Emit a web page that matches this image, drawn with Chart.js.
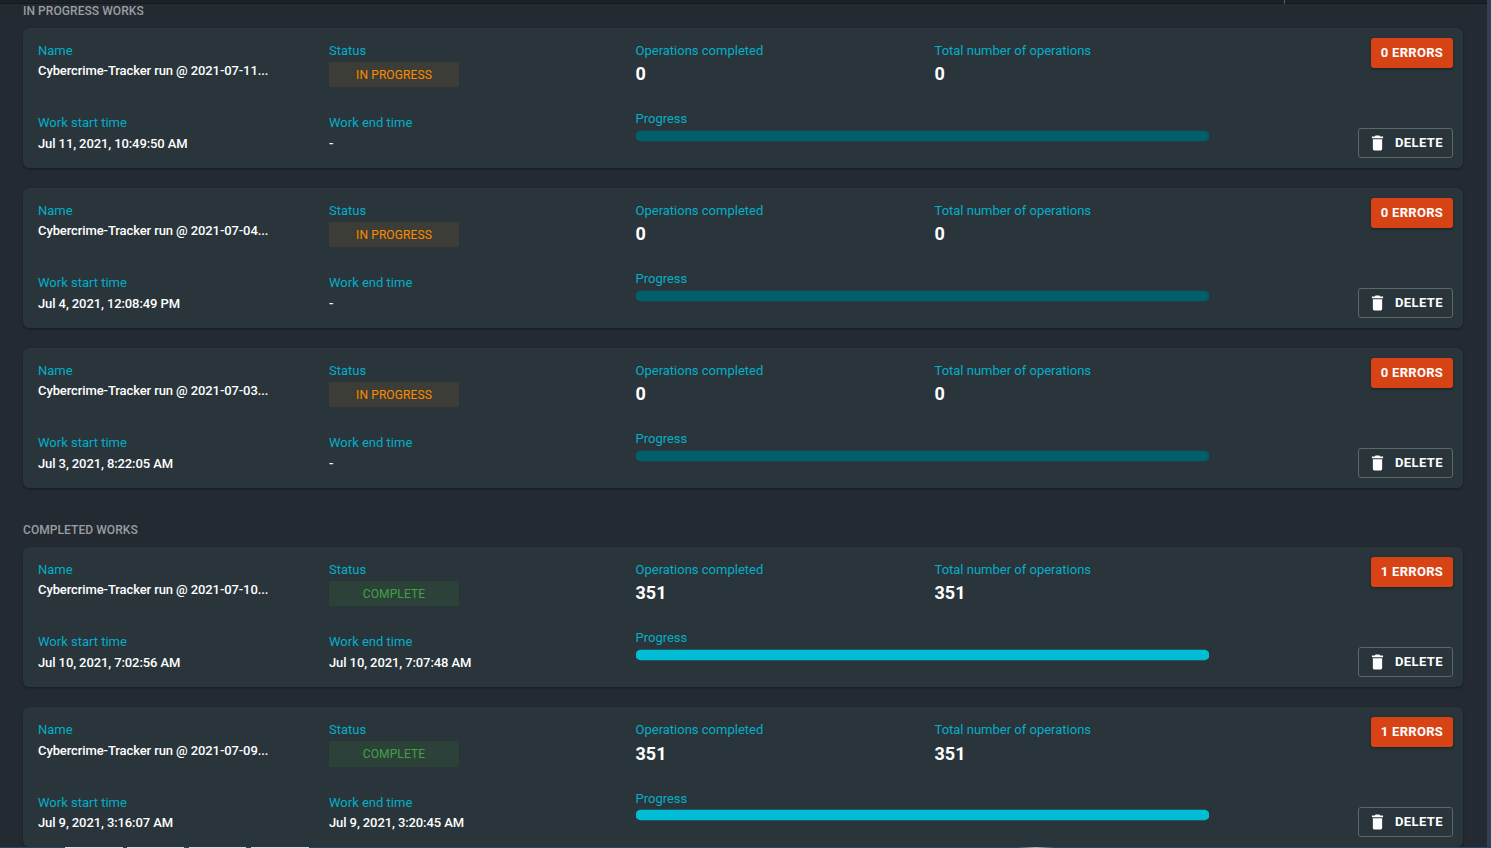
<!DOCTYPE html>
<html>
<head>
<meta charset="utf-8">
<title>Works</title>
<script src="https://cdn.jsdelivr.net/npm/chart.js@4"></script>
<style>
html, body { margin: 0; padding: 0; }
body { width: 1491px; height: 848px; overflow: hidden; background: #232a31; font-family: Roboto, sans-serif; position: relative; }
#topbar { position: absolute; left: 0; top: 0; width: 1491px; height: 3px; background: #1b2127; border-bottom: 1px solid #151a1f; }
#topbar i { position: absolute; left: 1284px; top: 0; width: 1px; height: 4px; background: #555c62; }
#scroll { position: absolute; left: 1487px; top: 0; width: 4px; height: 848px; background: #2d4552; }
#bottom { position: absolute; left: 0; top: 847px; width: 1491px; height: 1px; background: #1f4a66; z-index: 2; }
#bottom i { position: absolute; top: 0; height: 1px; background: #d8dde0; }
#bottom i.glow { background: linear-gradient(90deg, #1f4a66, #aab4ba, #1f4a66); }
.section { position: absolute; left: 23px; font-size: 12px; font-weight: 500; color: #9a9ea1; line-height: 14px; letter-spacing: .07px; }
.card { position: absolute; left: 23px; width: 1440px; height: 140px; background: #29353b; border-radius: 6px; box-shadow: 0 1px 3px rgba(0,0,0,.35); }
.card div { position: absolute; white-space: nowrap; }
.lbl { font-size: 13px; color: #04aec8; line-height: 16px; }
.val { font-size: 13px; font-weight: 500; color: #fff; line-height: 16px; letter-spacing: -.1px; }
.num { font-size: 18px; font-weight: 700; color: #fff; line-height: 22px; }
.pill { width: 130px; height: 25px; line-height: 27px; text-align: center; font-size: 12px; letter-spacing: .1px; }
.err { left: 1348px; top: 10px; width: 82px; height: 30px; line-height: 30px; text-align: center; border-radius: 3px; background: #d84315; color: #fff; font-size: 13px; font-weight: 700; letter-spacing: .3px; box-shadow: 0 1px 3px rgba(0,0,0,.4); }
.del { left: 1335px; top: 100px; width: 93px; height: 28px; border: 1px solid #5c666b; border-radius: 3px; color: #fff; font-size: 13px; font-weight: 700; letter-spacing: .4px; }
.del span { position: absolute; left: 36px; top: 0; line-height: 28px; }
.del svg { position: absolute; left: 12px; top: 6px; }
.bar { left: 612.5px; top: 100px; width: 573px; height: 16px; }
.bar canvas { display: block; }
</style>
</head>
<body>
<div id="topbar"><i></i></div>
<div id="scroll"></div>
<div id="bottom">
    <i style="left:65px;width:58px"></i><i style="left:127px;width:57px"></i><i style="left:189px;width:57px"></i><i style="left:251px;width:58px"></i><i class="glow" style="left:1018px;width:36px"></i>
</div>
<div id="page"></div>
<script>
// Works shown on the page
const workNames = [
    "Cybercrime-Tracker run @ 2021-07-11...",
    "Cybercrime-Tracker run @ 2021-07-04...",
    "Cybercrime-Tracker run @ 2021-07-03...",
    "Cybercrime-Tracker run @ 2021-07-10...",
    "Cybercrime-Tracker run @ 2021-07-09..."
];
const workStatus = ["IN PROGRESS", "IN PROGRESS", "IN PROGRESS", "COMPLETE", "COMPLETE"];
const startTimes = [
    "Jul 11, 2021, 10:49:50 AM",
    "Jul 4, 2021, 12:08:49 PM",
    "Jul 3, 2021, 8:22:05 AM",
    "Jul 10, 2021, 7:02:56 AM",
    "Jul 9, 2021, 3:16:07 AM"
];
const endTimes = ["-", "-", "-", "Jul 10, 2021, 7:07:48 AM", "Jul 9, 2021, 3:20:45 AM"];
const opsCompleted = [0, 0, 0, 351, 351];
const opsTotal = [0, 0, 0, 351, 351];
const errorCounts = [0, 0, 0, 1, 1];
const progressValues = [null, null, null, 100, 100];
const trackValues = [100, 100, 100, 100, 100];

const cardTops = [28, 188, 348, 547, 707];
// last card sits on a fractional offset in the original, so a few rows land 1px lower
const rowNudge = [0, 0, 0, 0, 1];

const statusStyle = {
    "IN PROGRESS": { color: "#ff8a00", background: "#3c3d36" },
    "COMPLETE": { color: "#43a047", background: "#2c4239" }
};

const trashIcon = '<svg width="13" height="16" viewBox="0 0 14 16"><path fill="#fff" d="M5 0h4l1 1h3v2H1V1h3zM2 4h10v10.5a1.5 1.5 0 0 1-1.5 1.5h-7A1.5 1.5 0 0 1 2 14.5z"/></svg>';

function addText(card, cls, x, y, text) {
    const el = document.createElement("div");
    el.className = cls;
    el.style.left = x + "px";
    el.style.top = y + "px";
    el.textContent = text;
    card.appendChild(el);
    return el;
}

function addSection(top, text) {
    const el = document.createElement("div");
    el.className = "section";
    el.style.top = top + "px";
    el.textContent = text;
    document.getElementById("page").appendChild(el);
}

addSection(4, "IN PROGRESS WORKS");
addSection(523, "COMPLETED WORKS");

workNames.forEach(function(name, i) {
    const card = document.createElement("div");
    const nudge = rowNudge[i];
    card.className = "card";
    card.style.top = cardTops[i] + "px";
    document.getElementById("page").appendChild(card);

    addText(card, "lbl", 15, 15, "Name");
    addText(card, "val", 15, 35 + nudge, name);
    addText(card, "lbl", 306, 15, "Status");
    const pill = addText(card, "pill", 306, 34, workStatus[i]);
    pill.style.height = (25 + nudge) + "px";
    pill.style.color = statusStyle[workStatus[i]].color;
    pill.style.background = statusStyle[workStatus[i]].background;
    addText(card, "lbl", 612.5, 15, "Operations completed");
    addText(card, "num", 612.5, 35 + nudge, String(opsCompleted[i]));
    addText(card, "lbl", 911.5, 15, "Total number of operations");
    addText(card, "num", 911.5, 35 + nudge, String(opsTotal[i]));
    addText(card, "lbl", 15, 87 + nudge, "Work start time");
    addText(card, "val", 15, 108, startTimes[i]);
    addText(card, "lbl", 306, 87 + nudge, "Work end time");
    addText(card, "val", 306, 108, endTimes[i]);
    addText(card, "lbl", 612.5, 83 + nudge, "Progress");

    const err = document.createElement("div");
    err.className = "err";
    err.textContent = errorCounts[i] + " ERRORS";
    card.appendChild(err);

    const del = document.createElement("div");
    del.className = "del";
    del.innerHTML = trashIcon + "<span>DELETE</span>";
    card.appendChild(del);

    // Progress bar is a one-row horizontal bar chart
    const barBox = document.createElement("div");
    barBox.className = "bar";
    const canvas = document.createElement("canvas");
    canvas.width = 573;
    canvas.height = 16;
    barBox.appendChild(canvas);
    card.appendChild(barBox);

    new Chart(canvas.getContext("2d"), {
        type: "bar",
        data: {
            labels: [name],
            datasets: [
                { label: "Progress", data: [progressValues[i]], backgroundColor: "#00bcd4", order: 1 },
                { label: "Track", data: [trackValues[i]], backgroundColor: "#005f6b", order: 2 }
            ]
        },
        options: {
            indexAxis: "y",
            responsive: false,
            animation: false,
            layout: { padding: 0 },
            datasets: { bar: { grouped: false, barThickness: 10, borderRadius: 5, borderSkipped: false } },
            plugins: { legend: { display: false }, tooltip: { enabled: false } },
            scales: {
                x: { display: false, min: 0, max: 100 },
                y: { display: false }
            }
        }
    });
});
</script>
</body>
</html>
